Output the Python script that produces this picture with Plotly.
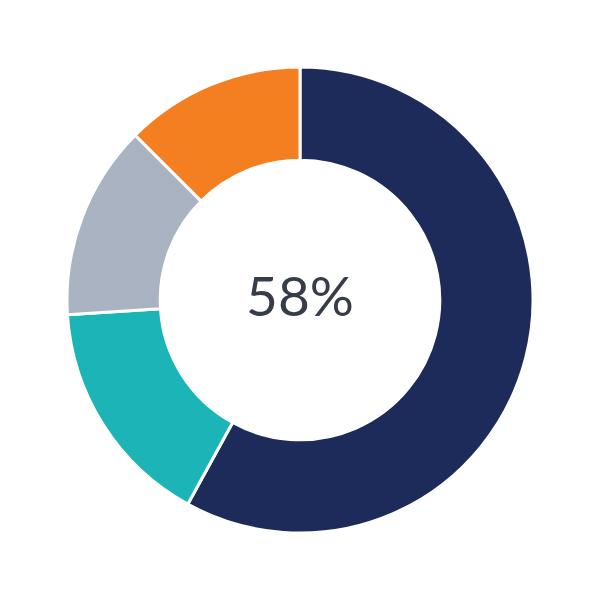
import plotly.graph_objects as go

labels = ['Navy', 'Teal', 'Gray', 'Orange']
values = [58, 16, 13.5, 12.5]
colors = ['#1c2b5a', '#1bb5b8', '#a9b3c1', '#f47f20']
center_text = '58%'

# page body has an 8px margin, so shift the donut up/left to land centred at (300, 300)
cx, cy, r = 292 / 600, 308 / 600, 233 / 600

fig = go.Figure()
fig.add_trace(go.Pie(
    labels=labels, values=values, hole=0.6, sort=False, direction='clockwise', rotation=0,
    marker=dict(colors=colors, line=dict(color='white', width=3)),
    textinfo='none', hoverinfo='label+percent', showlegend=False,
    domain=dict(x=[cx - r, cx + r], y=[cy - r, cy + r])
))

fig.add_annotation(text=center_text, x=cx, y=cy + 5 / 600, xref='paper', yref='paper', showarrow=False,
                   font=dict(family='Lato', size=55, color='#373d48'))

fig.update_layout(width=600, height=600, margin=dict(l=0, r=0, t=0, b=0),
                  paper_bgcolor='white', plot_bgcolor='white')

fig.write_html('out.html')
